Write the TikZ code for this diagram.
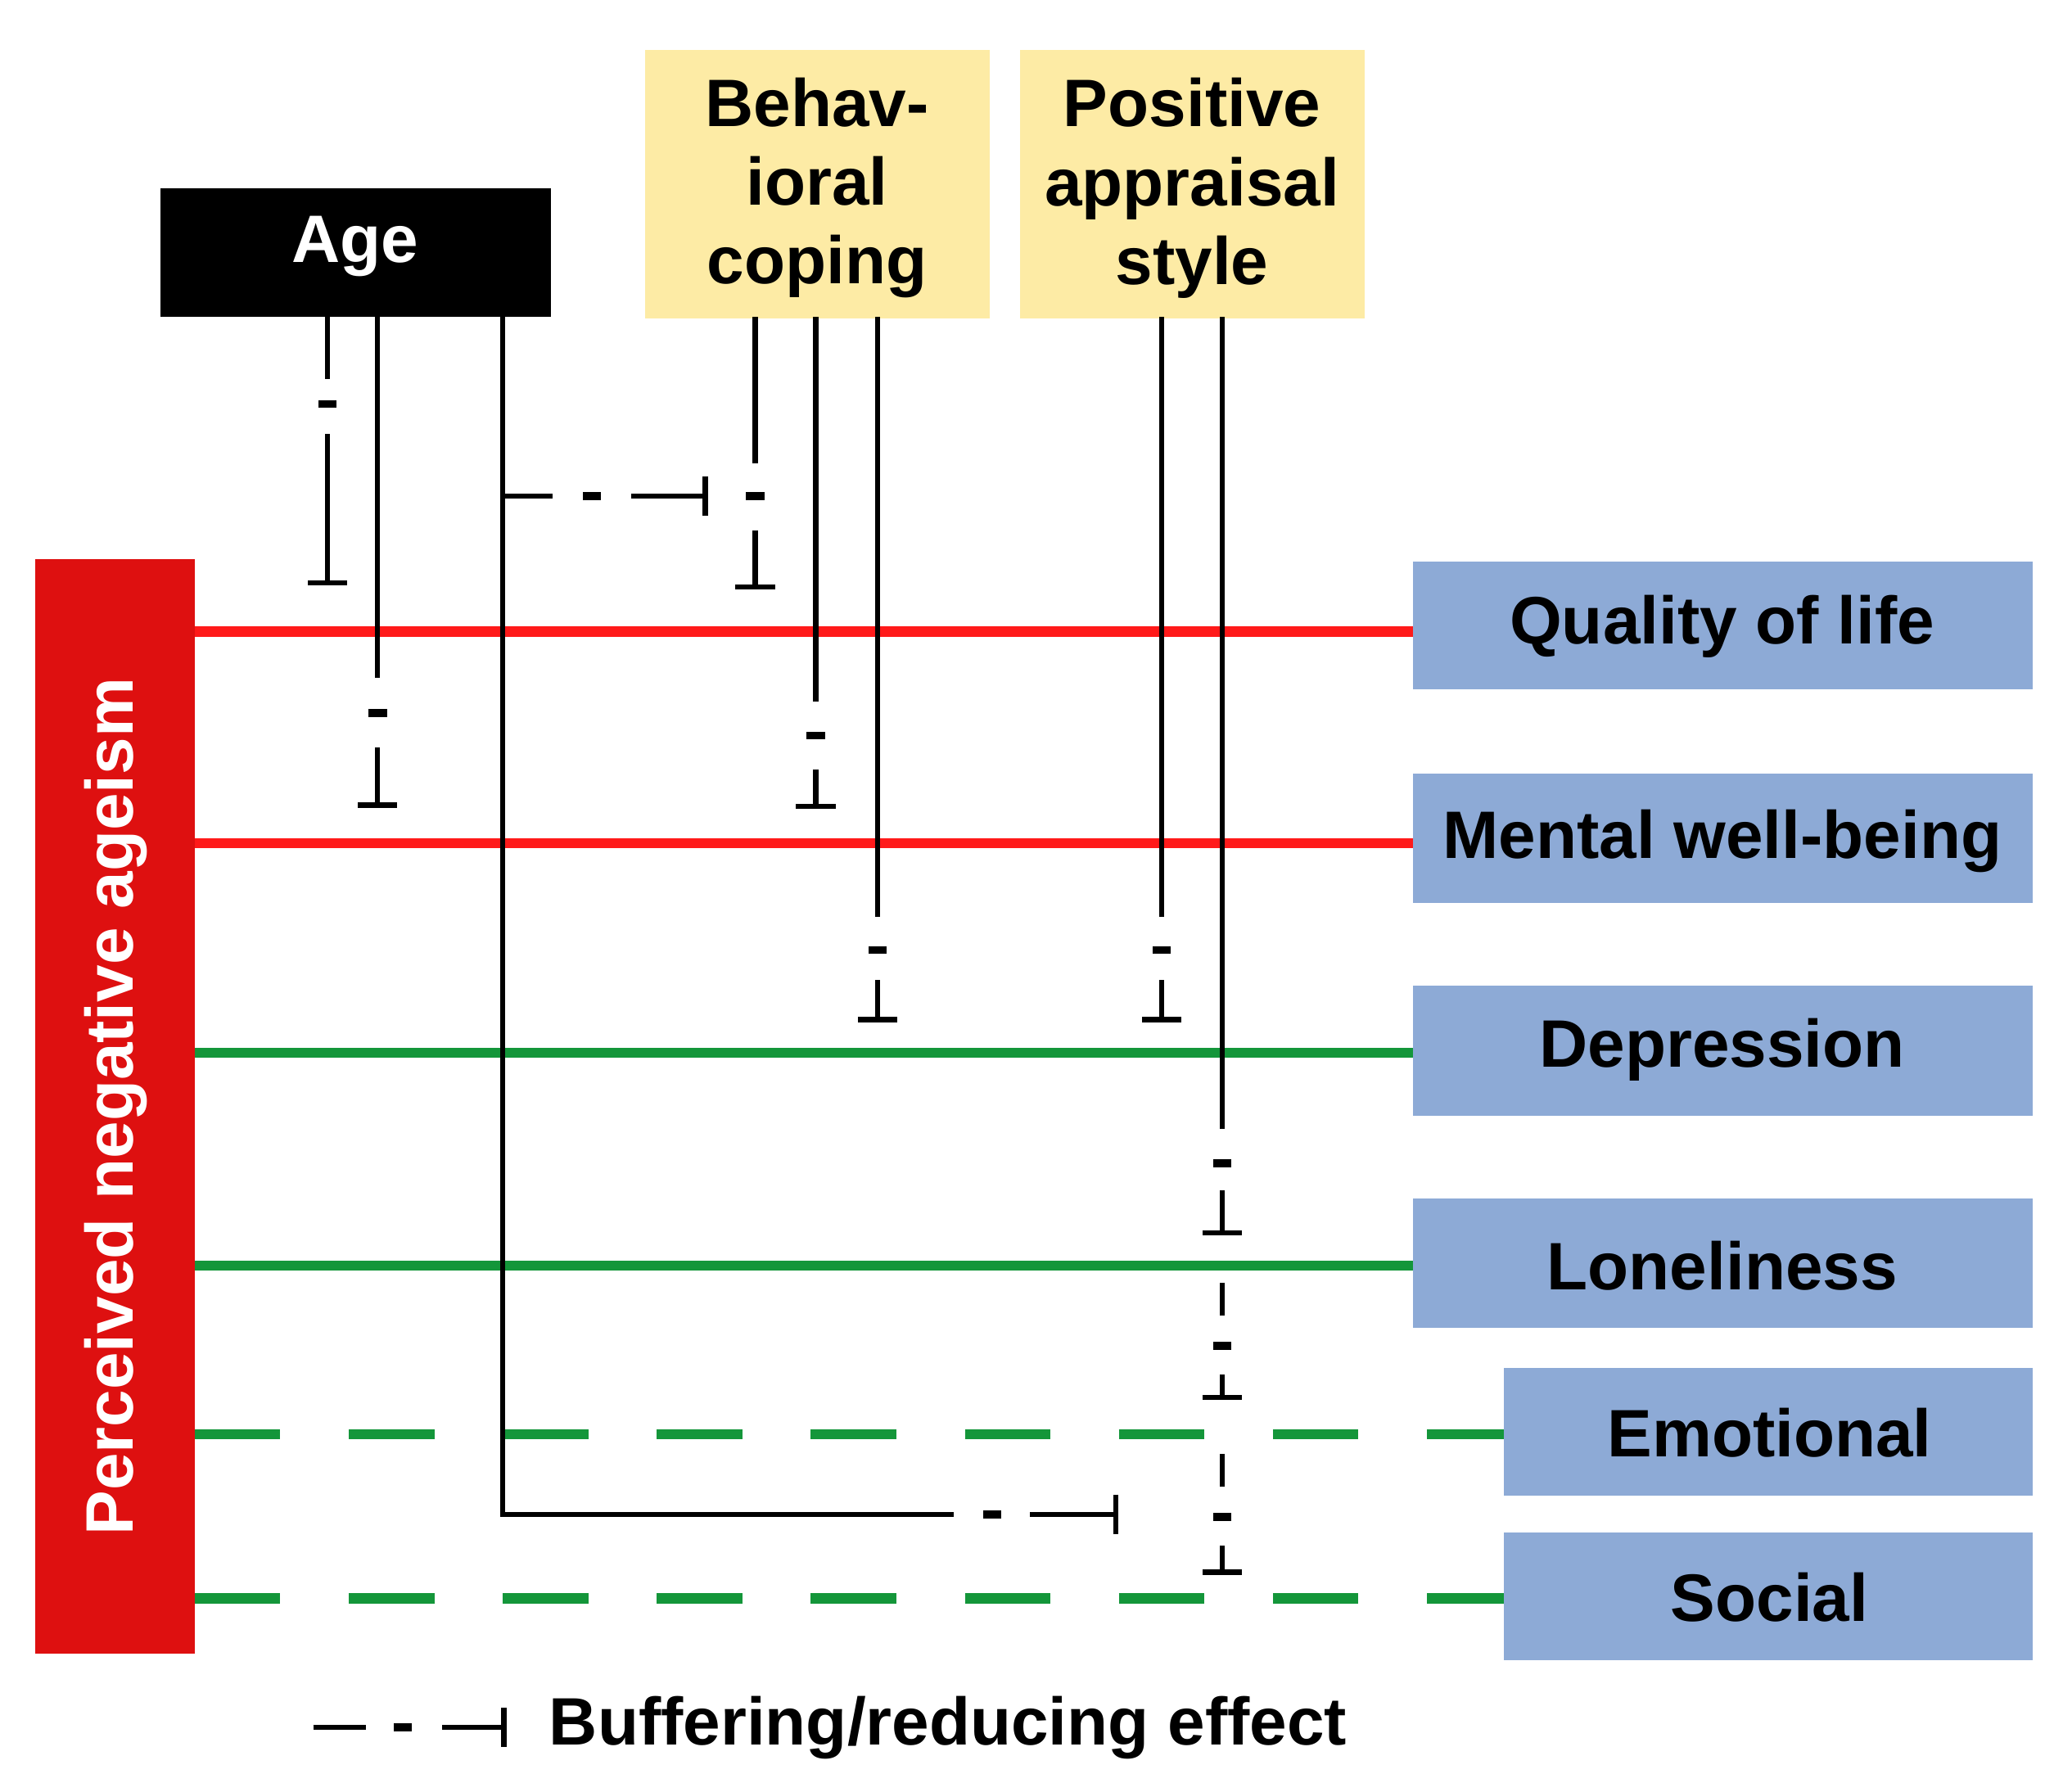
\documentclass[tikz,border=0pt]{standalone}
\usepackage{fontspec}
\setmainfont{Liberation Sans}
\begin{document}
\begin{tikzpicture}[x=0.01cm,y=-0.01cm,
  lbl/.style={font=\bfseries\fontsize{14.5}{17}\selectfont,align=center},
  bluebox/.style={fill=blu,draw=none},
  blk/.style={line width=1.1pt,black},
  redl/.style={line width=2.2pt,color=rl},
  grnl/.style={line width=2.2pt,color=gr},
  grnd/.style={line width=2.2pt,color=gr,dash pattern=on 0.65cm off 0.52cm}]
\definecolor{blu}{HTML}{8DAAD6}\definecolor{yel}{HTML}{FDEBA5}
\definecolor{rd}{HTML}{DE1010}\definecolor{rl}{HTML}{FF1A1A}\definecolor{gr}{HTML}{14963A}
\useasboundingbox (0,0) rectangle (1568,1362);
% lines
\draw[redl] (148,480) -- (1074,480);
\draw[redl] (148,641) -- (1074,641);
\draw[grnl] (148,800) -- (1074,800);
\draw[grnl] (148,962) -- (1074,962);
\draw[grnd] (148,1090) -- (1143,1090);
\draw[grnd] (148,1215) -- (1143,1215);
% boxes
\fill[rd] (27,425) rectangle (148,1257);
\node[lbl,white,rotate=90] (pna) at (88,841) {Perceived negative ageism};
\fill[black] (122,143) rectangle (419,241);
\node[lbl,white] (age) at (270,187) {Age};
\fill[yel] (490,38) rectangle (752,242);
\node[lbl] (beh) at (621,143) {Behav-\\ioral\\coping};
\fill[yel] (775,38) rectangle (1037,242);
\node[lbl] (pos) at (906,143) {Positive\\appraisal\\style};
\fill[bluebox] (1074,427) rectangle (1545,524); \node[lbl] (q) at (1309,476) {Quality of life};
\fill[bluebox] (1074,588) rectangle (1545,686); \node[lbl] (m) at (1309,639) {Mental well-being};
\fill[bluebox] (1074,749) rectangle (1545,848); \node[lbl] (d) at (1309,798) {Depression};
\fill[bluebox] (1074,911) rectangle (1545,1009); \node[lbl] (l) at (1309,962) {Loneliness};
\fill[bluebox] (1143,1040) rectangle (1545,1137); \node[lbl] (e) at (1345,1089) {Emotional};
\fill[bluebox] (1143,1165) rectangle (1545,1262); \node[lbl] (s) at (1345,1214) {Social};
% vertical buffer lines: x, start, s1end, dash centre, s2start, tee
\newcommand{\vbuf}[6]{\draw[blk] (#1,#2)--(#1,#3) (#1,#5)--(#1,#6) (#1-15,#6)--(#1+15,#6);
  \fill (#1-7,#4-3) rectangle (#1+7,#4+3);}
\newcommand{\hdash}[2]{\fill (#1-7,#2-3) rectangle (#1+7,#2+3);}
\vbuf{249}{241}{288}{307}{330}{443}
\vbuf{287}{241}{515}{542}{568}{612}
\vbuf{574}{241}{352}{377}{403}{446}
\vbuf{620}{241}{533}{559}{585}{613}
\vbuf{667}{241}{697}{722}{745}{775}
\vbuf{883}{241}{697}{722}{745}{775}
\vbuf{929}{241}{858}{884}{905}{937}
\vbuf{929}{975}{1000}{1023}{1045}{1062}
\vbuf{929}{1105}{1130}{1153}{1175}{1195}
% age main line
\draw[blk] (382,241) -- (382,1151) -- (725,1151) (783,1151)--(848,1151) (848,1136)--(848,1166);
\hdash{754}{1151}
\draw[blk] (382,377) -- (420,377) (480,377)--(536,377) (536,362)--(536,392);
\hdash{450}{377}
% legend
\draw[blk] (238,1313)--(278,1313) (336,1313)--(383,1313) (383,1298)--(383,1328);
\hdash{306}{1313}
\node[lbl,anchor=west] (leg) at (405,1313) {Buffering/reducing effect};
\end{tikzpicture}
\end{document}
